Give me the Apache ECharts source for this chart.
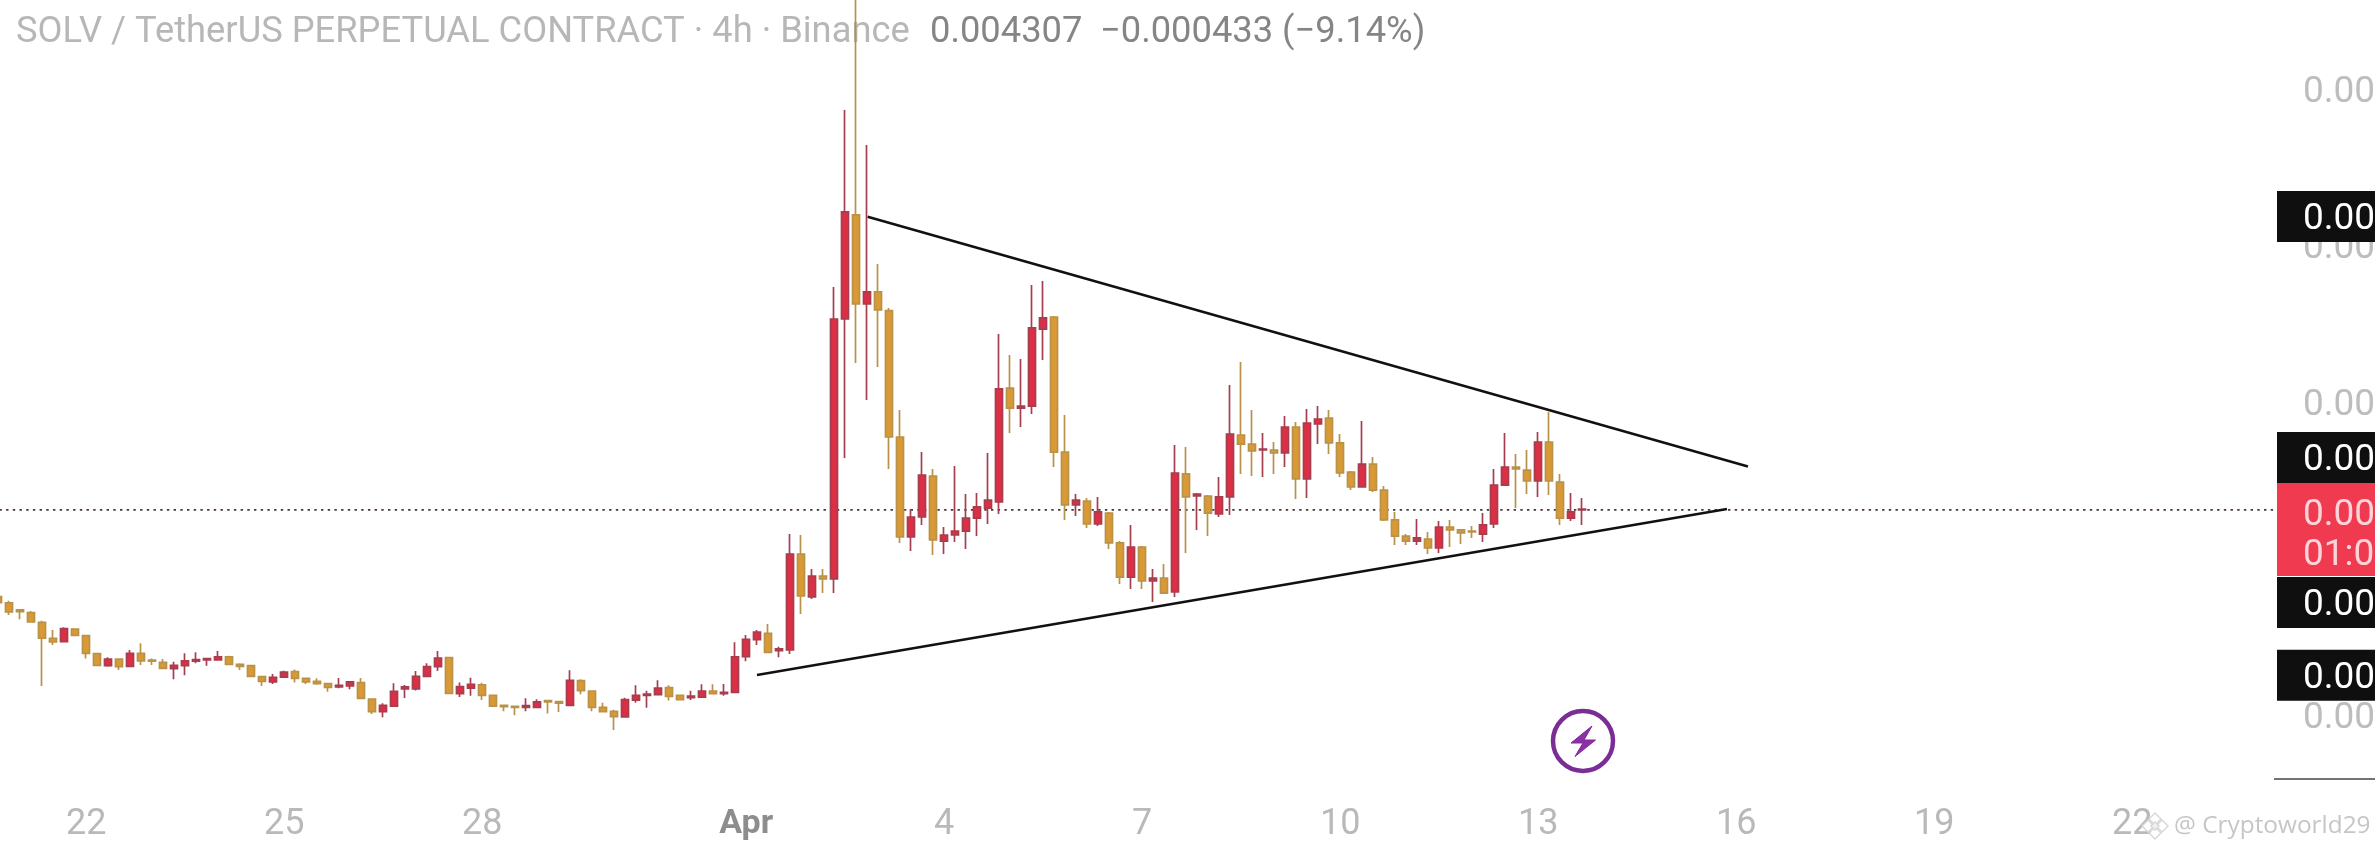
<!DOCTYPE html>
<html><head><meta charset="utf-8">
<style>html,body{margin:0;padding:0;background:#fff}#c{width:2375px;height:851px}</style>
<script src="https://cdn.jsdelivr.net/npm/echarts@6/dist/echarts.min.js"></script>
</head><body><div id="c"></div>
<script>
// prices in millionths of USDT, one entry per 4h candle
const opens=[3753,3714,3668,3651,3589,3487,3465,3546,3504,3389,3312,3354,3308,3391,3348,3333,3293,3312,3340,3348,3348,3369,3320,3312,3242,3208,3239,3274,3231,3212,3197,3176,3182,3203,3099,3018,3054,3163,3163,3244,3306,3363,3133,3169,3190,3122,3058,3052,3046,3046,3088,3082,3058,3216,3150,3046,3020,2984,3092,3122,3127,3171,3122,3107,3110,3150,3133,3141,3369,3478,3518,3408,3412,4025,3751,3885,3866,5527,6192,5623,5700,5581,4773,4134,4262,4524,4108,4147,4172,4255,4319,4358,5086,4958,4971,5463,5540,4677,4339,4364,4217,4287,4096,3878,4070,3853,3872,3783,4537,4396,4396,4281,4390,4786,4728,4690,4690,4671,4837,4505,4856,4894,4735,4549,4454,4600,4434,4243,4140,4108,4121,4064,4198,4179,4172,4153,4217,4466,4581,4562,4492,4741,4485,4255,4307];
const closes=[3714,3655,3657,3591,3487,3463,3548,3506,3391,3314,3354,3305,3391,3342,3340,3295,3314,3342,3350,3357,3369,3320,3308,3244,3212,3237,3271,3231,3208,3197,3173,3186,3208,3103,3018,3058,3148,3176,3244,3306,3361,3135,3178,3193,3122,3054,3050,3046,3056,3080,3080,3073,3218,3152,3046,3018,2986,3095,3122,3131,3169,3116,3095,3118,3150,3133,3141,3369,3480,3527,3397,3420,4025,3757,3885,3866,5527,6211,5623,5700,5585,4773,4134,4262,4530,4115,4147,4172,4255,4326,4370,5080,4958,4971,5470,5534,4677,4339,4370,4217,4294,4096,3878,4070,3853,3872,3776,4543,4390,4409,4287,4390,4792,4728,4684,4696,4671,4837,4505,4862,4888,4735,4543,4454,4600,4434,4243,4140,4108,4128,4064,4198,4179,4160,4166,4211,4466,4581,4569,4492,4741,4492,4255,4294,4313];
const highs=[3763,3727,3672,3661,3599,3540,3557,3550,3508,3391,3365,3359,3412,3455,3357,3354,3337,3391,3397,3359,3406,3376,3327,3314,3246,3259,3280,3288,3237,3231,3203,3233,3214,3233,3103,3071,3199,3188,3278,3327,3406,3367,3205,3235,3203,3127,3063,3056,3103,3097,3092,3086,3282,3225,3154,3075,3031,3107,3186,3152,3218,3186,3127,3152,3193,3193,3195,3461,3508,3540,3578,3433,4153,4147,3930,3930,5732,6863,7700,6639,5879,5597,4946,4313,4677,4569,4198,4588,4409,4415,4671,5431,5297,5271,5744,5770,5546,4914,4409,4383,4390,4294,4108,4211,4076,3930,3962,4722,4709,4415,4402,4517,5105,5252,4946,4799,4741,4907,4869,4952,4971,4946,4792,4556,4875,4645,4460,4294,4153,4249,4166,4236,4243,4185,4204,4287,4569,4799,4664,4690,4805,4933,4537,4415,4383];
const lows=[3706,3636,3608,3587,3182,3444,3461,3501,3357,3310,3305,3284,3305,3316,3316,3291,3225,3250,3327,3312,3344,3314,3284,3239,3182,3195,3235,3205,3195,3190,3146,3167,3161,3099,3003,2982,3050,3105,3154,3239,3278,3133,3112,3120,3092,3050,3020,2995,3020,3041,3007,3016,3054,3129,3020,3014,2901,2982,3075,3043,3122,3090,3090,3092,3105,3127,3120,3137,3340,3444,3393,3365,3386,3642,3738,3776,3776,4639,5246,5010,5220,4569,4096,4045,4211,4019,4025,4102,4057,4140,4217,4281,4799,4837,4920,5265,4581,4243,4268,4192,4204,4057,3834,3802,3802,3719,3770,3751,4032,4179,4140,4262,4275,4537,4524,4517,4537,4581,4377,4383,4728,4664,4517,4434,4450,4422,4236,4083,4083,4083,4025,4032,4070,4089,4128,4102,4192,4460,4319,4409,4390,4402,4211,4236,4211];
const tickSlots=[8,26,44,68,86,104,122,140,158,176,194];
const tickLabels=['22','25','28','Apr','4','7','10','13','16','19','22'];
const yTicks=[0.003,0.004,0.005,0.006,0.007];
const lastPrice=0.004307;
const blackTags=[0.006182,0.004642,0.003715,0.00325];
const upperTrendX=[79.04,159.07], upperTrendY=[0.006181,0.004585];
const lowerTrendX=[68.98,157.16], lowerTrendY=[0.003252,0.004313];
const titleText='SOLV / TetherUS PERPETUAL CONTRACT · 4h · Binance';
const priceText='0.004307', changeText='−0.000433 (−9.14%)', countdown='01:05:12';

const SLOTS=208;
const categories=Array.from({length:SLOTS},(_,i)=>{const k=tickSlots.indexOf(i);return k>=0?tickLabels[k]:'s'+i;});
const candles=opens.map((o,i)=>[o/1e6,closes[i]/1e6,lows[i]/1e6,highs[i]/1e6]);
const FONT='Roboto';
const chart=echarts.init(document.getElementById('c'),null,{renderer:'canvas'});
chart.setOption({
  animation:false,backgroundColor:'#fff',
  grid:{left:-7.3,top:0,width:2288,height:779,containLabel:false,outerBoundsMode:'none'},
  xAxis:[{type:'category',data:categories,boundaryGap:true,axisLine:{show:false},axisTick:{show:false},splitLine:{show:false},
    axisLabel:{interval:(i)=>tickSlots.includes(i),margin:28,fontFamily:FONT,fontSize:36,color:'#b9b9b9',hideOverlap:false,
      formatter:v=>v==='Apr'?'{b|Apr}':v,rich:{b:{fontFamily:FONT,fontSize:34,fontWeight:'bold',color:'#8d8d8d'}}}},
    {type:'value',show:false,min:-0.5,max:SLOTS-0.5}],
  yAxis:{type:'value',position:'right',min:0.0025877,max:0.0075655,axisLine:{show:false},axisTick:{show:false},splitLine:{show:false},axisLabel:{show:false}},
  series:[
   {type:'line',xAxisIndex:1,yAxisIndex:0,data:[[-0.5,lastPrice],[SLOTS-0.5,lastPrice]],symbol:'none',silent:true,z:2,lineStyle:{type:[2.4,4.3],color:'#4a3636',width:1.7}},
   {type:'candlestick',xAxisIndex:0,yAxisIndex:0,data:candles,barWidth:8,z:3,
    itemStyle:{color:'#dc2f45',color0:'#d99a35',borderColor:'#a53e4f',borderColor0:'#b9924a',borderWidth:1.7}},
   {type:'line',xAxisIndex:1,yAxisIndex:0,data:upperTrendX.map((x,i)=>[x,upperTrendY[i]]),symbol:'none',silent:true,z:5,lineStyle:{color:'#111',width:2.6}},
   {type:'line',xAxisIndex:1,yAxisIndex:0,data:lowerTrendX.map((x,i)=>[x,lowerTrendY[i]]),symbol:'none',silent:true,z:5,lineStyle:{color:'#111',width:2.6}}
  ]
});
const py=p=>chart.convertToPixel({yAxisIndex:0},p);
const gfx=[];
const hdr=(x,t,c)=>gfx.push({type:'text',z:1,x,y:33,style:{text:t,fill:c,font:'36.3px '+FONT,textVerticalAlign:'middle',textBaseline:'middle'}});
hdr(16,titleText,'#b7b7b7');hdr(930,priceText,'#858585');hdr(1100,changeText,'#858585');
yTicks.forEach(p=>gfx.push({type:'text',z:50,x:2303,y:py(p)+4,style:{text:p.toFixed(3),fill:'#bdbdbd',font:'37px '+FONT,textBaseline:'middle',textVerticalAlign:'middle'}}));
blackTags.forEach(p=>{const y=py(p);
 gfx.push({type:'rect',z:100,shape:{x:2277,y:y-25.5,width:98,height:51},style:{fill:'#0f0f0f'}});
 gfx.push({type:'text',z:101,x:2303,y:y+3,style:{text:p.toFixed(6),fill:'#fff',font:'37px '+FONT,textBaseline:'middle',textVerticalAlign:'middle'}});});
const ly=py(lastPrice);
gfx.push({type:'rect',z:100,shape:{x:2277,y:ly-27,width:98,height:93},style:{fill:'#ef3a50'}});
gfx.push({type:'text',z:101,x:2303,y:ly+6,style:{text:priceText,fill:'#fbd3d8',font:'37px '+FONT,textBaseline:'middle',textVerticalAlign:'middle'}});
gfx.push({type:'text',z:101,x:2303,y:ly+46,style:{text:countdown,fill:'#fbd3d8',font:'37px '+FONT,textBaseline:'middle',textVerticalAlign:'middle'}});
gfx.push({type:'line',z:100,shape:{x1:2274,y1:779,x2:2375,y2:779},style:{stroke:'#444',lineWidth:1.6}});
gfx.push({type:'circle',z:100,shape:{cx:1583,cy:741,r:30},style:{fill:'#fff',stroke:'#7b2d96',lineWidth:4.5}});
gfx.push({type:'polygon',z:101,shape:{points:[[1592,726],[1571,743],[1583,743],[1575,756.5],[1595.5,740],[1584,740]]},style:{fill:'#8e2fa8',stroke:'#7b2d96',lineWidth:1}});
[[0,-7],[7,0],[0,7],[-7,0],[0,0]].forEach(([dx,dy])=>{const cx=2155+dx,cy=826+dy,r=dx||dy?6:4;
 gfx.push({type:'polygon',z:101,shape:{points:[[cx,cy-r],[cx+r,cy],[cx,cy+r],[cx-r,cy]]},style:{fill:'rgba(255,255,255,0.6)',stroke:'#d6d6d6',lineWidth:1.4}});});
gfx.push({type:'text',z:101,x:2174,y:826,style:{text:'@ Cryptoworld29',fill:'#c6c6c6',font:'24.4px "Open Sans"',textBaseline:'middle',textVerticalAlign:'middle'}});
chart.setOption({graphic:gfx});
</script></body></html>
